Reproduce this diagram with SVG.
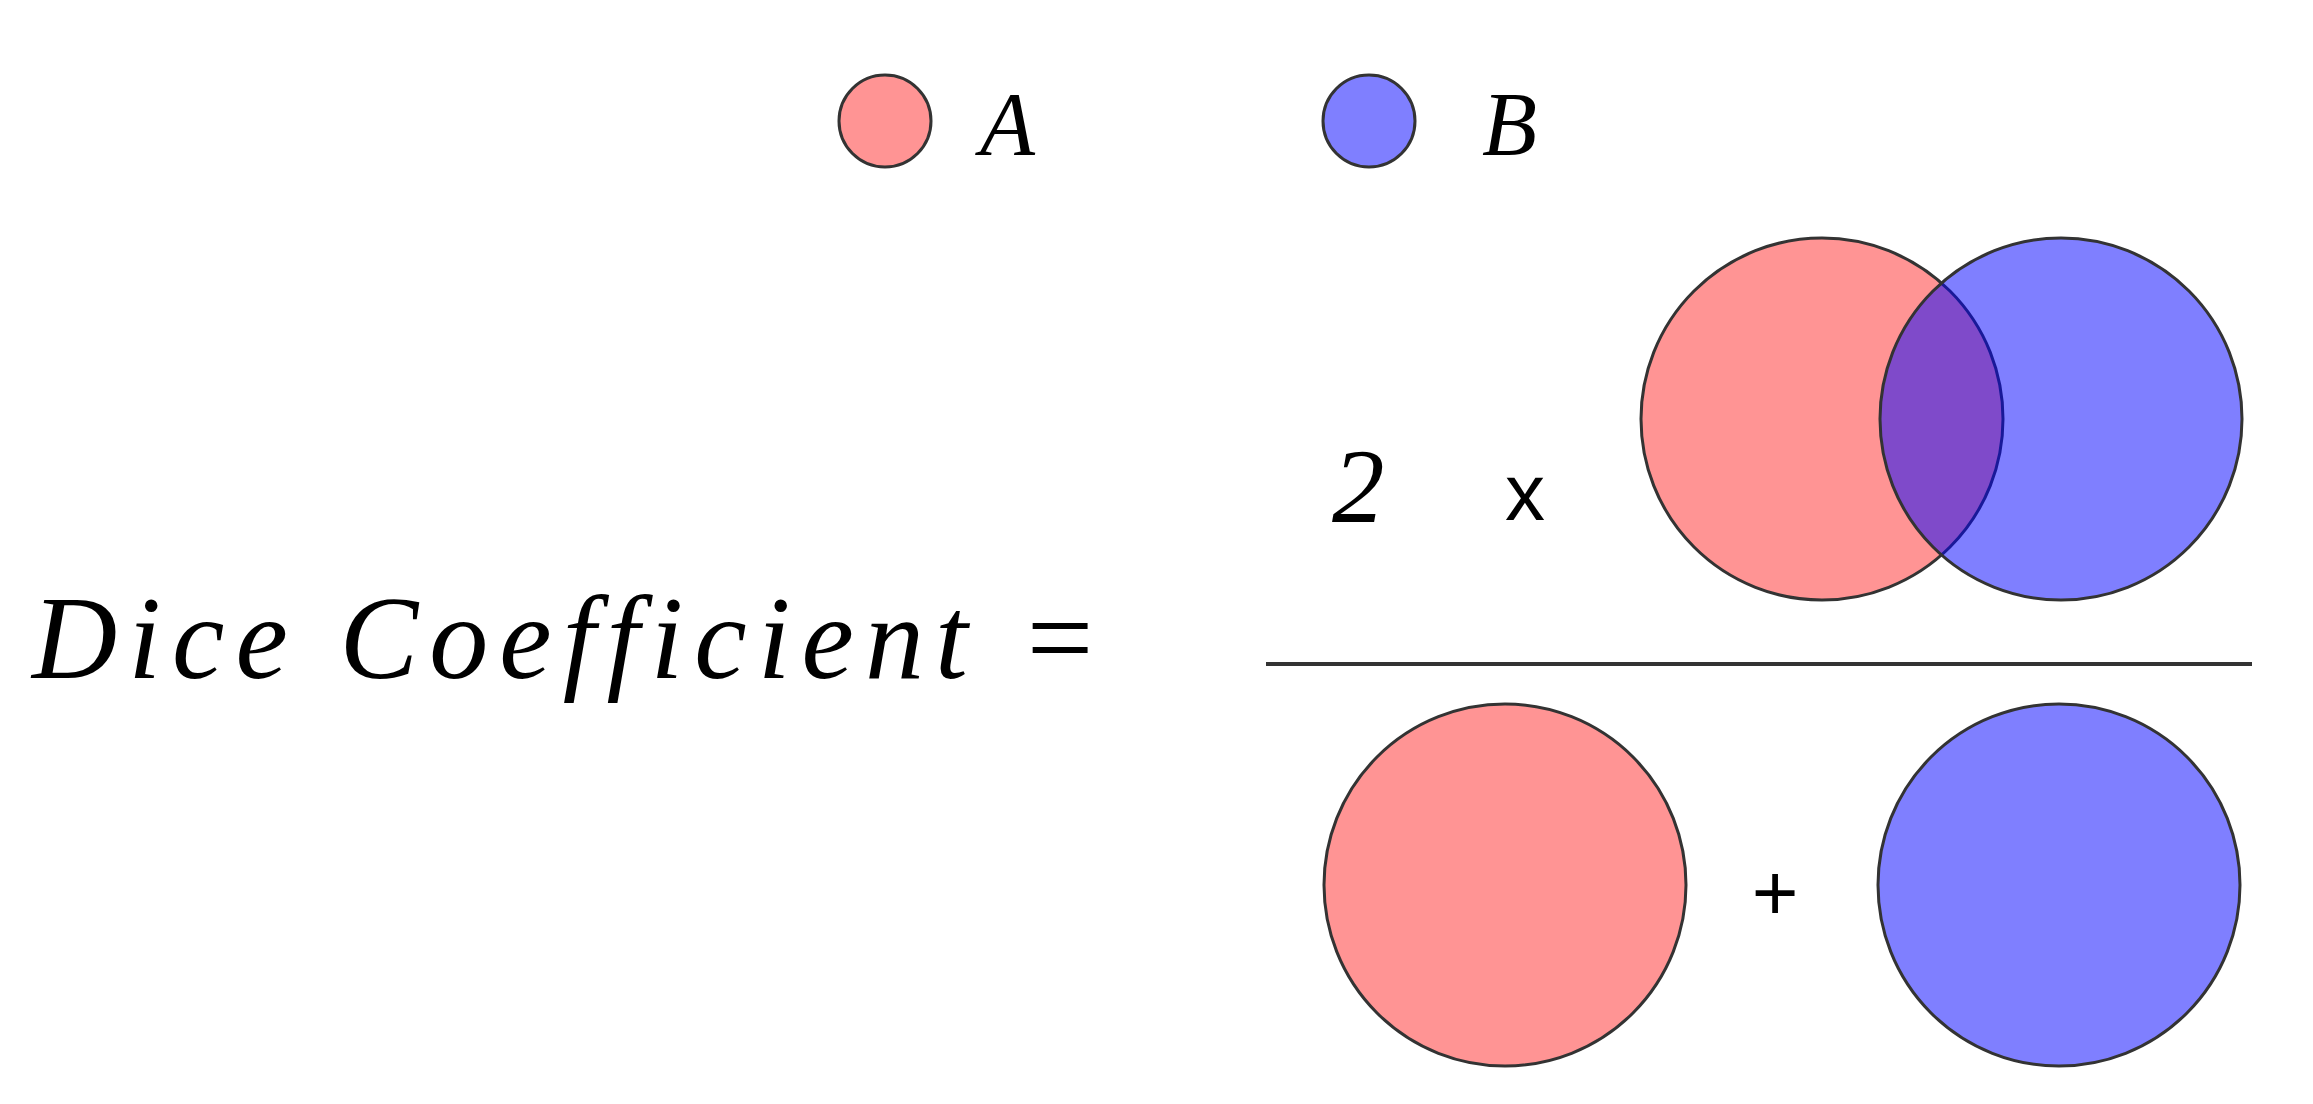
<svg xmlns="http://www.w3.org/2000/svg" width="2313" height="1104" viewBox="0 0 2313 1104">
<style>
.a{fill:rgb(255,0,0);fill-opacity:0.42;stroke:#333;stroke-width:3}
.b{fill:rgb(0,0,255);fill-opacity:0.5;stroke:#333;stroke-width:3}
.serif{font-family:"Liberation Serif",serif;font-style:italic;fill:#000}
.sans{font-family:"Liberation Sans",sans-serif;fill:#000}
</style>
<rect width="2313" height="1104" fill="#fff"/>
<g id="legend">
<circle class="a" cx="885" cy="121" r="46"/>
<text class="serif" x="980" y="155" font-size="90">A</text>
<circle class="b" cx="1369" cy="121" r="46"/>
<text class="serif" x="1482" y="155" font-size="90">B</text>
</g>
<g id="label"><text class="serif" x="32" y="678" font-size="118" textLength="1067">Dice Coefficient =</text></g>
<g id="numerator">
<text class="serif" x="1332" y="522" font-size="105">2</text>
<text class="sans" x="1505" y="520" font-size="80">x</text>
<circle class="a" cx="1822" cy="419" r="181"/>
<circle class="b" cx="2061" cy="419" r="181"/>
</g>
<g id="connectors"><line x1="1266" y1="664" x2="2252" y2="664" stroke="#333" stroke-width="4"/></g>
<g id="denominator">
<circle class="a" cx="1505" cy="885" r="181"/>
<text class="sans" x="1775" y="920" font-size="80" text-anchor="middle">+</text>
<circle class="b" cx="2059" cy="885" r="181"/>
</g>
</svg>
